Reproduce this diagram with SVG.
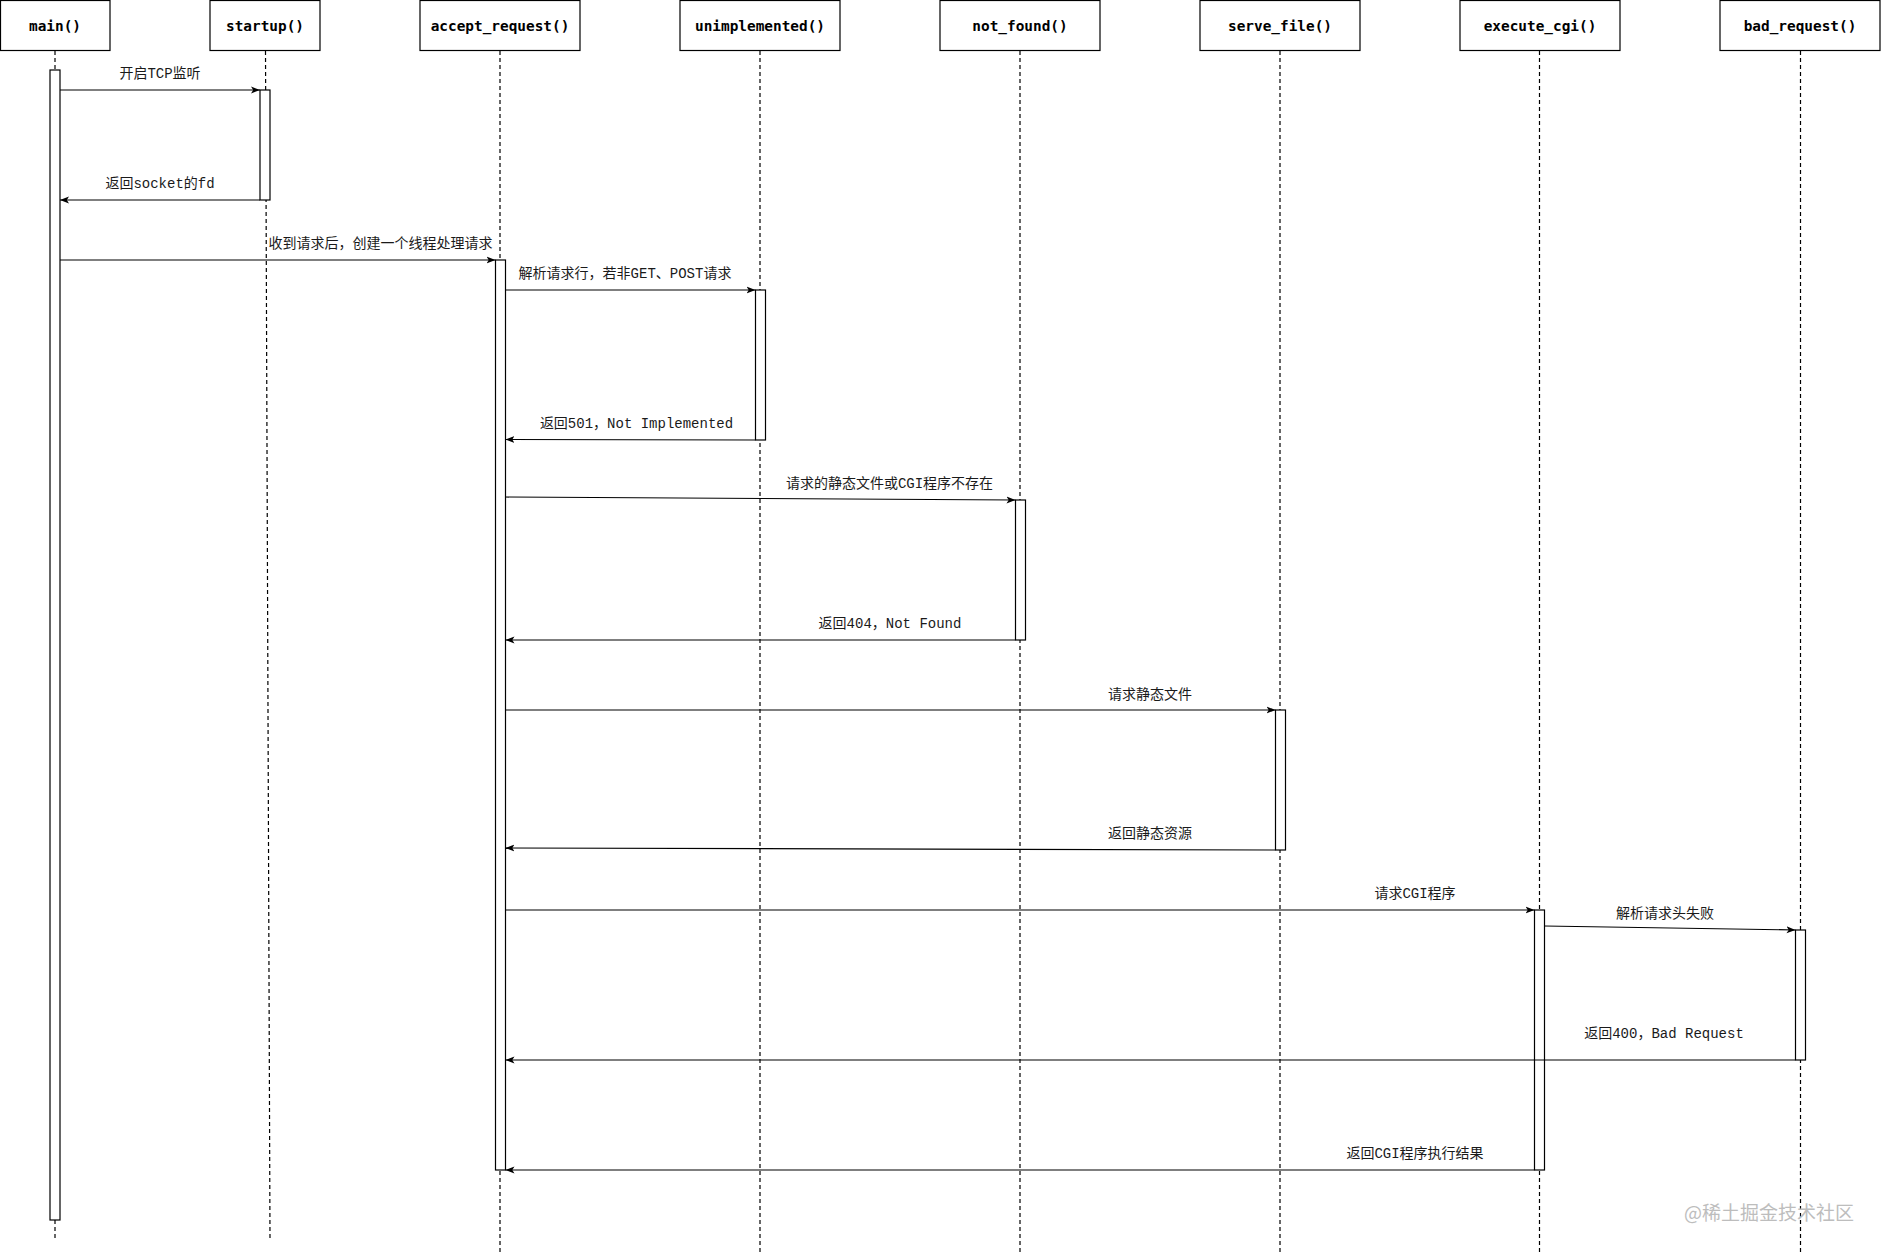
<svg xmlns="http://www.w3.org/2000/svg" width="1881" height="1252" viewBox="0 0 1881 1252">
  <style>
    .hdr { fill: #ffffff; stroke: #000000; stroke-width: 1.2; }
    .hdrt { font-family: "DejaVu Sans Mono", "Liberation Mono", "Noto Sans CJK SC", monospace; font-size: 14.4px; font-weight: bold; fill: #000000; text-anchor: middle; dominant-baseline: central; }
    .life { fill: none; stroke: #000000; stroke-width: 1.2; stroke-dasharray: 4 3; }
    .act { fill: #ffffff; stroke: #000000; stroke-width: 1.2; }
    .msg { fill: none; stroke: #000000; stroke-width: 1.2; marker-end: url(#arr); }
    .lbl { font-family: "Liberation Mono", "Noto Sans CJK SC", monospace; font-size: 14px; fill: #1a1a1a; text-anchor: middle; dominant-baseline: central; }
    .wm { font-family: "Noto Sans CJK SC", sans-serif; font-size: 19px; fill: #bdbdbd; text-anchor: middle; dominant-baseline: central; }
  </style>
  <defs>
    <marker id="arr" markerUnits="userSpaceOnUse" markerWidth="10" markerHeight="8" refX="9" refY="4" orient="auto">
      <path d="M0,0.5 L9,4 L0,7.5 L2.2,4 Z" fill="#000000"/>
    </marker>
  </defs>
  <rect x="0" y="0" width="1881" height="1252" fill="#ffffff"/>

  <g id="main">
    <rect class="hdr" x="0.5" y="0.5" width="109.5" height="50"/>
    <text class="hdrt" x="55" y="25.5">main()</text>
    <line class="life" x1="55" y1="51" x2="55" y2="1240"/>
    <rect class="act" x="50" y="70" width="10" height="1150"/>
  </g>
  <g id="startup">
    <rect class="hdr" x="210" y="0.5" width="110" height="50"/>
    <text class="hdrt" x="265" y="25.5">startup()</text>
    <line class="life" x1="265.5" y1="51" x2="270" y2="1240"/>
    <rect class="act" x="260" y="90" width="10" height="110"/>
  </g>
  <g id="accept_request">
    <rect class="hdr" x="420" y="0.5" width="160" height="50"/>
    <text class="hdrt" x="500" y="25.5">accept_request()</text>
    <line class="life" x1="500" y1="51" x2="500" y2="1252"/>
    <rect class="act" x="495.5" y="260" width="10" height="910"/>
  </g>
  <g id="unimplemented">
    <rect class="hdr" x="680" y="0.5" width="160" height="50"/>
    <text class="hdrt" x="760" y="25.5">unimplemented()</text>
    <line class="life" x1="760" y1="51" x2="760" y2="1252"/>
    <rect class="act" x="755.5" y="290" width="10" height="150"/>
  </g>
  <g id="not_found">
    <rect class="hdr" x="940" y="0.5" width="160" height="50"/>
    <text class="hdrt" x="1020" y="25.5">not_found()</text>
    <line class="life" x1="1020" y1="51" x2="1020" y2="1252"/>
    <rect class="act" x="1015.5" y="500" width="10" height="140"/>
  </g>
  <g id="serve_file">
    <rect class="hdr" x="1200" y="0.5" width="160" height="50"/>
    <text class="hdrt" x="1280" y="25.5">serve_file()</text>
    <line class="life" x1="1280" y1="51" x2="1280" y2="1252"/>
    <rect class="act" x="1275.5" y="710" width="10" height="140"/>
  </g>
  <g id="execute_cgi">
    <rect class="hdr" x="1460" y="0.5" width="160" height="50"/>
    <text class="hdrt" x="1540" y="25.5">execute_cgi()</text>
    <line class="life" x1="1539.5" y1="51" x2="1539.5" y2="1252"/>
    <rect class="act" x="1534.5" y="910" width="10" height="260"/>
  </g>
  <g id="bad_request">
    <rect class="hdr" x="1720" y="0.5" width="160" height="50"/>
    <text class="hdrt" x="1800" y="25.5">bad_request()</text>
    <line class="life" x1="1800.5" y1="51" x2="1800.5" y2="1252"/>
    <rect class="act" x="1795.5" y="930" width="10" height="130"/>
  </g>

  <g id="connectors">
    <line class="msg" x1="60" y1="90" x2="260" y2="90"/>
    <line class="msg" x1="260" y1="200" x2="60" y2="200"/>
    <line class="msg" x1="60" y1="260" x2="495.5" y2="260"/>
    <line class="msg" x1="505.5" y1="290" x2="755.5" y2="290"/>
    <line class="msg" x1="755.5" y1="440" x2="505.5" y2="439.5"/>
    <line class="msg" x1="505.5" y1="497" x2="1015.5" y2="500"/>
    <line class="msg" x1="1015.5" y1="640" x2="505.5" y2="640"/>
    <line class="msg" x1="505.5" y1="710" x2="1275.5" y2="710"/>
    <line class="msg" x1="1275.5" y1="850" x2="505.5" y2="848"/>
    <line class="msg" x1="505.5" y1="910" x2="1534.5" y2="910"/>
    <line class="msg" x1="1544.5" y1="926" x2="1795.5" y2="930"/>
    <line class="msg" x1="1795.5" y1="1060" x2="505.5" y2="1060"/>
    <line class="msg" x1="1534.5" y1="1170" x2="505.5" y2="1170"/>
  </g>

  <g id="labels">
    <text class="lbl" x="160" y="74">开启TCP监听</text>
    <text class="lbl" x="160" y="184">返回socket的fd</text>
    <text class="lbl" x="380.5" y="244">收到请求后，创建一个线程处理请求</text>
    <text class="lbl" x="625" y="274">解析请求行，若非GET、POST请求</text>
    <text class="lbl" x="636.5" y="424">返回501，Not Implemented</text>
    <text class="lbl" x="889.5" y="484">请求的静态文件或CGI程序不存在</text>
    <text class="lbl" x="890" y="624">返回404，Not Found</text>
    <text class="lbl" x="1150" y="695">请求静态文件</text>
    <text class="lbl" x="1150" y="834">返回静态资源</text>
    <text class="lbl" x="1415" y="894">请求CGI程序</text>
    <text class="lbl" x="1665" y="914">解析请求头失败</text>
    <text class="lbl" x="1664" y="1034">返回400，Bad Request</text>
    <text class="lbl" x="1415" y="1154">返回CGI程序执行结果</text>
  </g>

  <text class="wm" x="1769" y="1211">@稀土掘金技术社区</text>
</svg>
